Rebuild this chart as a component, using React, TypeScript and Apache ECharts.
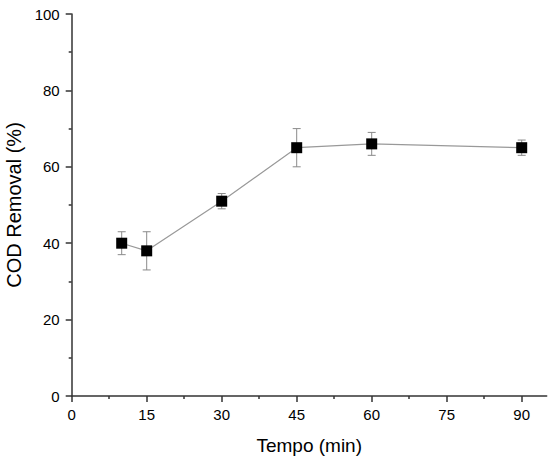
import React, { useEffect, useRef } from "react";
import * as echarts from "echarts";

const times = [10, 15, 30, 45, 60, 90];
const removal = [40, 38, 51, 65, 66, 65];
const errors = [3, 5, 2, 5, 3, 2];
const xMajorTicks = [0, 15, 30, 45, 60, 75, 90];
const xMinorTicks = [7.5, 22.5, 37.5, 52.5, 67.5, 82.5];
const yMinorTicks = [10, 30, 50, 70, 90];

export default function App() {
  const ref = useRef<HTMLDivElement>(null);
  useEffect(() => {
    const chart = echarts.init(ref.current!, null, { renderer: "svg" });
    const font = "Liberation Sans, Arial, sans-serif";
    const axisColor = "#333";
    const lineData = times.map((t, i) => [t, removal[i]]);
    const errData = times.map((t, i) => [t, removal[i] - errors[i], removal[i] + errors[i]]);
    chart.setOption({
      animation: false,
      backgroundColor: "#fff",
      grid: { left: 71.7, right: 3.3, top: 14, bottom: 67, containLabel: false, outerBoundsMode: "none" },
      xAxis: [
        {
          type: "value",
          min: 0,
          max: 95,
          interval: 15,
          name: "Tempo (min)",
          nameLocation: "middle",
          nameGap: 40,
          nameTextStyle: { fontFamily: font, fontSize: 19, color: "#000" },
          axisLine: { lineStyle: { color: axisColor, width: 1.5 } },
          axisTick: { show: true, length: 6, customValues: xMajorTicks, lineStyle: { color: axisColor, width: 1.5 } },
          axisLabel: { customValues: xMajorTicks, fontFamily: font, fontSize: 15, color: "#000", margin: 11 },
          splitLine: { show: false },
        },
        {
          type: "value",
          min: 0,
          max: 95,
          position: "bottom",
          axisLine: { show: false },
          axisTick: { show: true, length: 3, customValues: xMinorTicks, lineStyle: { color: axisColor, width: 1.5 } },
          axisLabel: { show: false },
          splitLine: { show: false },
        },
      ],
      yAxis: [
        {
          type: "value",
          min: 0,
          max: 100,
          interval: 20,
          name: "COD Removal (%)",
          nameLocation: "middle",
          nameGap: 46,
          nameTextStyle: { fontFamily: font, fontSize: 20, color: "#000" },
          axisLine: { show: true, lineStyle: { color: axisColor, width: 1.5 } },
          axisTick: { show: true, length: 6, lineStyle: { color: axisColor, width: 1.5 } },
          axisLabel: { fontFamily: font, fontSize: 15, color: "#000", margin: 12 },
          splitLine: { show: false },
        },
        {
          type: "value",
          min: 0,
          max: 100,
          position: "left",
          axisLine: { show: false },
          axisTick: { show: true, length: 3, customValues: yMinorTicks, lineStyle: { color: axisColor, width: 1.5 } },
          axisLabel: { show: false },
          splitLine: { show: false },
        },
      ],
      series: [
        {
          type: "custom",
          xAxisIndex: 0,
          yAxisIndex: 0,
          data: errData,
          z: 1,
          renderItem: (params: any, api: any) => {
            const x = api.value(0);
            const lo = api.coord([x, api.value(1)]);
            const hi = api.coord([x, api.value(2)]);
            const hw = 4;
            const style = { stroke: "#8a8a8a", lineWidth: 1 };
            return {
              type: "group",
              children: [
                { type: "line", shape: { x1: lo[0], y1: lo[1], x2: hi[0], y2: hi[1] }, style },
                { type: "line", shape: { x1: lo[0] - hw, y1: lo[1], x2: lo[0] + hw, y2: lo[1] }, style },
                { type: "line", shape: { x1: hi[0] - hw, y1: hi[1], x2: hi[0] + hw, y2: hi[1] }, style },
              ],
            };
          },
        },
        {
          type: "line",
          xAxisIndex: 0,
          yAxisIndex: 0,
          data: lineData,
          z: 2,
          symbol: "rect",
          symbolSize: 11,
          itemStyle: { color: "#000" },
          lineStyle: { color: "#999", width: 1.2 },
        },
      ],
    });
    return () => chart.dispose();
  }, []);
  return <div ref={ref} style={{ position: "fixed", left: 0, top: 0, width: 550, height: 463 }} />;
}
